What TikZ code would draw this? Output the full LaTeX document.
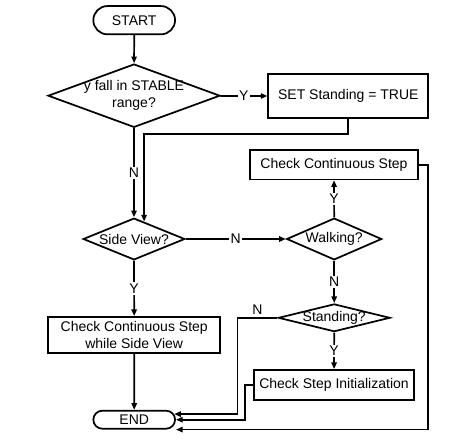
\documentclass[tikz,border=0pt]{standalone}
\usepackage{fontspec}
\setmainfont{Liberation Sans}
\usetikzlibrary{shapes.geometric, shapes.misc, arrows.meta}

\begin{document}
\begin{tikzpicture}[x=0.75pt, y=0.75pt, line width=1.3pt,
  font=\fontsize{10.5}{12.75}\selectfont,
  terminal/.style={draw, rounded rectangle, minimum width=61.3pt, inner sep=0pt},
  process/.style={draw, rectangle, align=center, inner sep=0pt},
  decision/.style={draw, diamond, inner sep=0pt},
  flow/.style={-{Triangle[length=5pt, width=4pt]}},
  answer/.style={fill=white, inner sep=1pt}]
\useasboundingbox (0,0) rectangle (474,444);

% left column
\node[terminal, minimum height=21.2pt] (start) at (134.2,423.8) {START};
\node[decision, minimum width=129pt, minimum height=47.5pt, label={[align=center]center:y fall in STABLE\\range?}] (stable) at (134,348.3) {};
\node[decision, minimum width=76.3pt, minimum height=31.3pt, label={center:Side View?}] (sideview) at (134,205) {};
\node[process, minimum width=128.8pt, minimum height=26.8pt] (sidestep) at (134.2,109.2) {Check Continuous Step\\while Side View};
\node[terminal, minimum height=13.5pt] (finish) at (134.2,24.3) {END};

% right column
\node[process, minimum width=120pt, minimum height=33.2pt] (setstand) at (348.3,347.8) {SET Standing = TRUE};
\node[process, minimum width=126.5pt, minimum height=22pt] (contstep) at (334,279.3) {Check Continuous Step};
\node[decision, minimum width=71.3pt, minimum height=31.3pt, label={center:Walking?}] (walking) at (334.2,205) {};
\node[decision, minimum width=83.8pt, minimum height=20.8pt, label={center:Standing?}] (standing) at (334.2,126.2) {};
\node[process, minimum width=120pt, minimum height=22.5pt] (stepinit) at (334,59) {Check Step Initialization};

\draw[flow] (start) -- (stable);
\draw[flow] (stable) -- node[answer] {Y} (setstand);
\draw[flow] (stable) -- node[answer] {N} (sideview);
\draw[flow] (setstand.south) -- ++(0,-15) -| (sideview.60);
\draw[flow] (sideview) -- node[answer] {N} (walking);
\draw[flow] (sideview) -- node[answer] {Y} (sidestep);
\draw[flow] (walking) -- node[answer] {Y} (contstep);
\draw[flow] (walking) -- node[answer] {N} (standing);
\draw[flow] (standing) -- node[answer] {Y} (stepinit);
\draw[flow] (sidestep) -- (finish);

% back to END
\draw[flow] (standing.west) -- node[above, inner sep=1.5pt] {N} ++(-40,0) |- (finish.8);
\draw[flow] (stepinit.west) -- ++(-8,0) |- (finish.east);
\draw[flow] (contstep.east) -- ++(9,0) |- (finish.south -| finish.east);
\end{tikzpicture}
\end{document}
